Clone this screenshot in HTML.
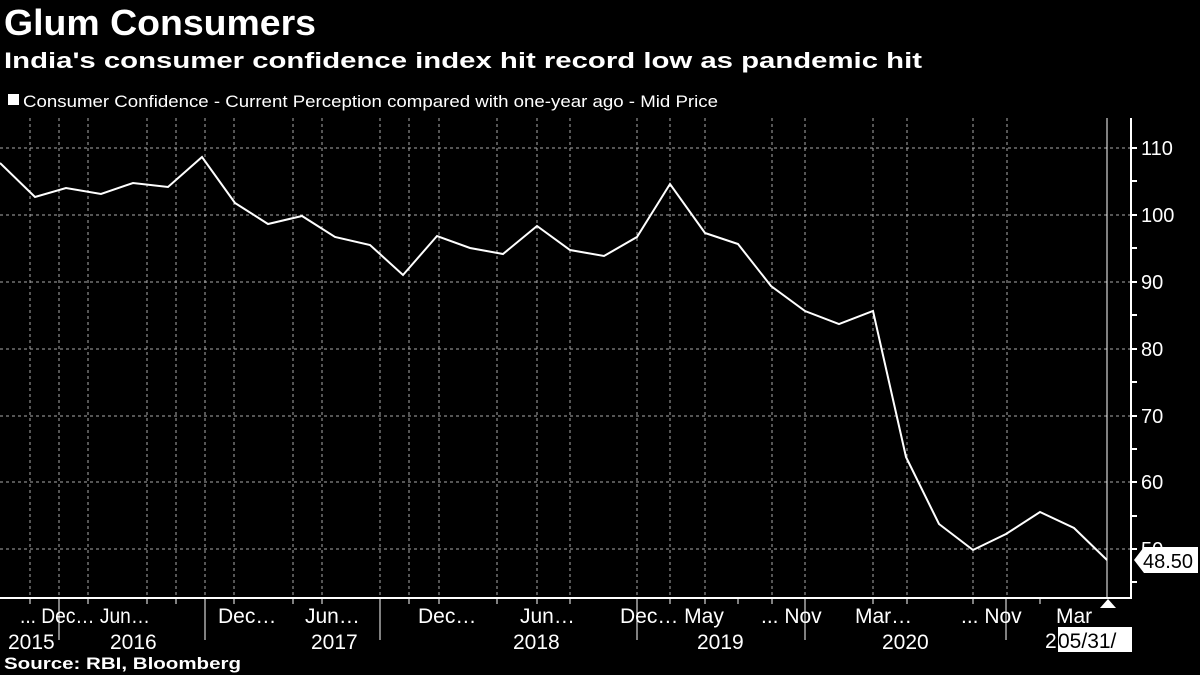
<!DOCTYPE html>
<html><head><style>
body{margin:0;background:#000;width:1200px;height:675px;overflow:hidden;font-family:"Liberation Sans",sans-serif;color:#fff}
</style></head><body>
<svg width="1200" height="675" xmlns="http://www.w3.org/2000/svg" style="position:absolute;left:0;top:0">
<text x="4" y="35" font-size="36" font-weight="bold" fill="#fff" font-family="Liberation Sans" textLength="312" lengthAdjust="spacingAndGlyphs">Glum Consumers</text>
<text x="4" y="68" font-size="22" font-weight="bold" fill="#fff" font-family="Liberation Sans" textLength="918" lengthAdjust="spacingAndGlyphs">India's consumer confidence index hit record low as pandemic hit</text>
<rect x="8" y="94" width="11" height="11" fill="#fff"/>
<text x="23" y="107" font-size="17" fill="#fff" font-family="Liberation Sans" textLength="695" lengthAdjust="spacingAndGlyphs">Consumer Confidence - Current Perception compared with one-year ago - Mid Price</text>
<g stroke="#aaa" stroke-dasharray="3,3" stroke-width="1">
<line x1="0" x2="1131" y1="148" y2="148"/><line x1="0" x2="1131" y1="215" y2="215"/><line x1="0" x2="1131" y1="282" y2="282"/><line x1="0" x2="1131" y1="349" y2="349"/><line x1="0" x2="1131" y1="416" y2="416"/><line x1="0" x2="1131" y1="482" y2="482"/><line x1="0" x2="1131" y1="549" y2="549"/>
<line x1="30" x2="30" y1="118" y2="598"/><line x1="59" x2="59" y1="118" y2="598"/><line x1="88" x2="88" y1="118" y2="598"/><line x1="147" x2="147" y1="118" y2="598"/><line x1="176" x2="176" y1="118" y2="598"/><line x1="205" x2="205" y1="118" y2="598"/><line x1="234" x2="234" y1="118" y2="598"/><line x1="293" x2="293" y1="118" y2="598"/><line x1="322" x2="322" y1="118" y2="598"/><line x1="380" x2="380" y1="118" y2="598"/><line x1="409" x2="409" y1="118" y2="598"/><line x1="439" x2="439" y1="118" y2="598"/><line x1="497" x2="497" y1="118" y2="598"/><line x1="537" x2="537" y1="118" y2="598"/><line x1="570" x2="570" y1="118" y2="598"/><line x1="637" x2="637" y1="118" y2="598"/><line x1="670" x2="670" y1="118" y2="598"/><line x1="705" x2="705" y1="118" y2="598"/><line x1="772" x2="772" y1="118" y2="598"/><line x1="805" x2="805" y1="118" y2="598"/><line x1="873" x2="873" y1="118" y2="598"/><line x1="907" x2="907" y1="118" y2="598"/><line x1="973" x2="973" y1="118" y2="598"/><line x1="1007" x2="1007" y1="118" y2="598"/>
</g>
<line x1="1107" x2="1107" y1="118" y2="598" stroke="#fff" stroke-width="1"/>
<line x1="0" x2="1132" y1="598" y2="598" stroke="#fff" stroke-width="2"/>
<line x1="1131" x2="1131" y1="118" y2="598" stroke="#fff" stroke-width="2"/>
<g stroke="#fff" stroke-width="2">
<line x1="1131" x2="1137" y1="148" y2="148"/><line x1="1131" x2="1137" y1="215" y2="215"/><line x1="1131" x2="1137" y1="282" y2="282"/><line x1="1131" x2="1137" y1="349" y2="349"/><line x1="1131" x2="1137" y1="416" y2="416"/><line x1="1131" x2="1137" y1="482" y2="482"/><line x1="1131" x2="1137" y1="549" y2="549"/>
<line x1="1131" x2="1137" y1="181" y2="181"/><line x1="1131" x2="1137" y1="248" y2="248"/><line x1="1131" x2="1137" y1="315" y2="315"/><line x1="1131" x2="1137" y1="382" y2="382"/><line x1="1131" x2="1137" y1="449" y2="449"/><line x1="1131" x2="1137" y1="516" y2="516"/><line x1="1131" x2="1137" y1="582" y2="582"/>
</g>
<g font-size="20" fill="#fff" font-family="Liberation Sans">
<text x="1141" y="155">110</text><text x="1141" y="222">100</text><text x="1141" y="289">90</text><text x="1141" y="356">80</text><text x="1141" y="423">70</text><text x="1141" y="489">60</text><text x="1141" y="556">50</text>
</g>
<polyline fill="none" stroke="#fff" stroke-width="2" points="0,163 35,197 66,188 101,194 133,183 168,187 202,157 235,203 268,224 302,216 335,237 370,245 403,275 437,236 470,248 503,254 537,226 570,250 604,256 637,237 670,184 705,233 738,244 771,286 805,311 839,324 873,311 906,457 939,524 973,550 1006,534 1040,512 1074,528 1107,560"/>
<polygon points="1134,560 1144,547 1198,547 1198,573 1144,573" fill="#fff"/>
<text x="1143" y="568" font-size="20" fill="#000" font-family="Liberation Sans">48.50</text>
<g stroke="#fff" stroke-width="1">
<line x1="59" x2="59" y1="598" y2="640"/><line x1="205" x2="205" y1="598" y2="640"/><line x1="380" x2="380" y1="598" y2="640"/><line x1="637" x2="637" y1="598" y2="640"/><line x1="805" x2="805" y1="598" y2="640"/><line x1="1006" x2="1006" y1="598" y2="640"/>
<line x1="30" x2="30" y1="598" y2="604"/><line x1="88" x2="88" y1="598" y2="604"/><line x1="147" x2="147" y1="598" y2="604"/><line x1="176" x2="176" y1="598" y2="604"/><line x1="234" x2="234" y1="598" y2="604"/><line x1="293" x2="293" y1="598" y2="604"/><line x1="322" x2="322" y1="598" y2="604"/><line x1="409" x2="409" y1="598" y2="604"/><line x1="439" x2="439" y1="598" y2="604"/><line x1="497" x2="497" y1="598" y2="604"/><line x1="537" x2="537" y1="598" y2="604"/><line x1="570" x2="570" y1="598" y2="604"/><line x1="670" x2="670" y1="598" y2="604"/><line x1="705" x2="705" y1="598" y2="604"/><line x1="738" x2="738" y1="598" y2="604"/><line x1="772" x2="772" y1="598" y2="604"/><line x1="873" x2="873" y1="598" y2="604"/><line x1="907" x2="907" y1="598" y2="604"/><line x1="973" x2="973" y1="598" y2="604"/><line x1="1040" x2="1040" y1="598" y2="604"/>
</g>
<polygon points="1108,599 1100,608 1116,608" fill="#fff"/>
<g font-size="21" fill="#fff" font-family="Liberation Sans">
<text x="20" y="623" textLength="130" lengthAdjust="spacingAndGlyphs">... Dec… Jun…</text>
<text x="218" y="623">Dec…</text>
<text x="305" y="623">Jun…</text>
<text x="418" y="623">Dec…</text>
<text x="520" y="623">Jun…</text>
<text x="620" y="623">Dec… May</text>
<text x="761" y="623">... Nov</text>
<text x="855" y="623">Mar…</text>
<text x="961" y="623">... Nov</text>
<text x="1056" y="623">Mar</text>
<text x="8" y="649">2015</text><text x="110" y="649">2016</text><text x="311" y="649">2017</text><text x="513" y="649">2018</text><text x="697" y="649">2019</text><text x="882" y="649">2020</text>
</g>
<rect x="1058" y="627" width="74" height="25" fill="#fff"/>
<text x="1045" y="648" font-size="21" fill="#fff" font-family="Liberation Sans">2</text>
<text x="1058" y="648" font-size="21" fill="#000" font-family="Liberation Sans">05/31/</text>
<text x="4" y="669" font-size="17" font-weight="bold" fill="#fff" font-family="Liberation Sans" textLength="237" lengthAdjust="spacingAndGlyphs">Source: RBI, Bloomberg</text>
</svg>
</body></html>
